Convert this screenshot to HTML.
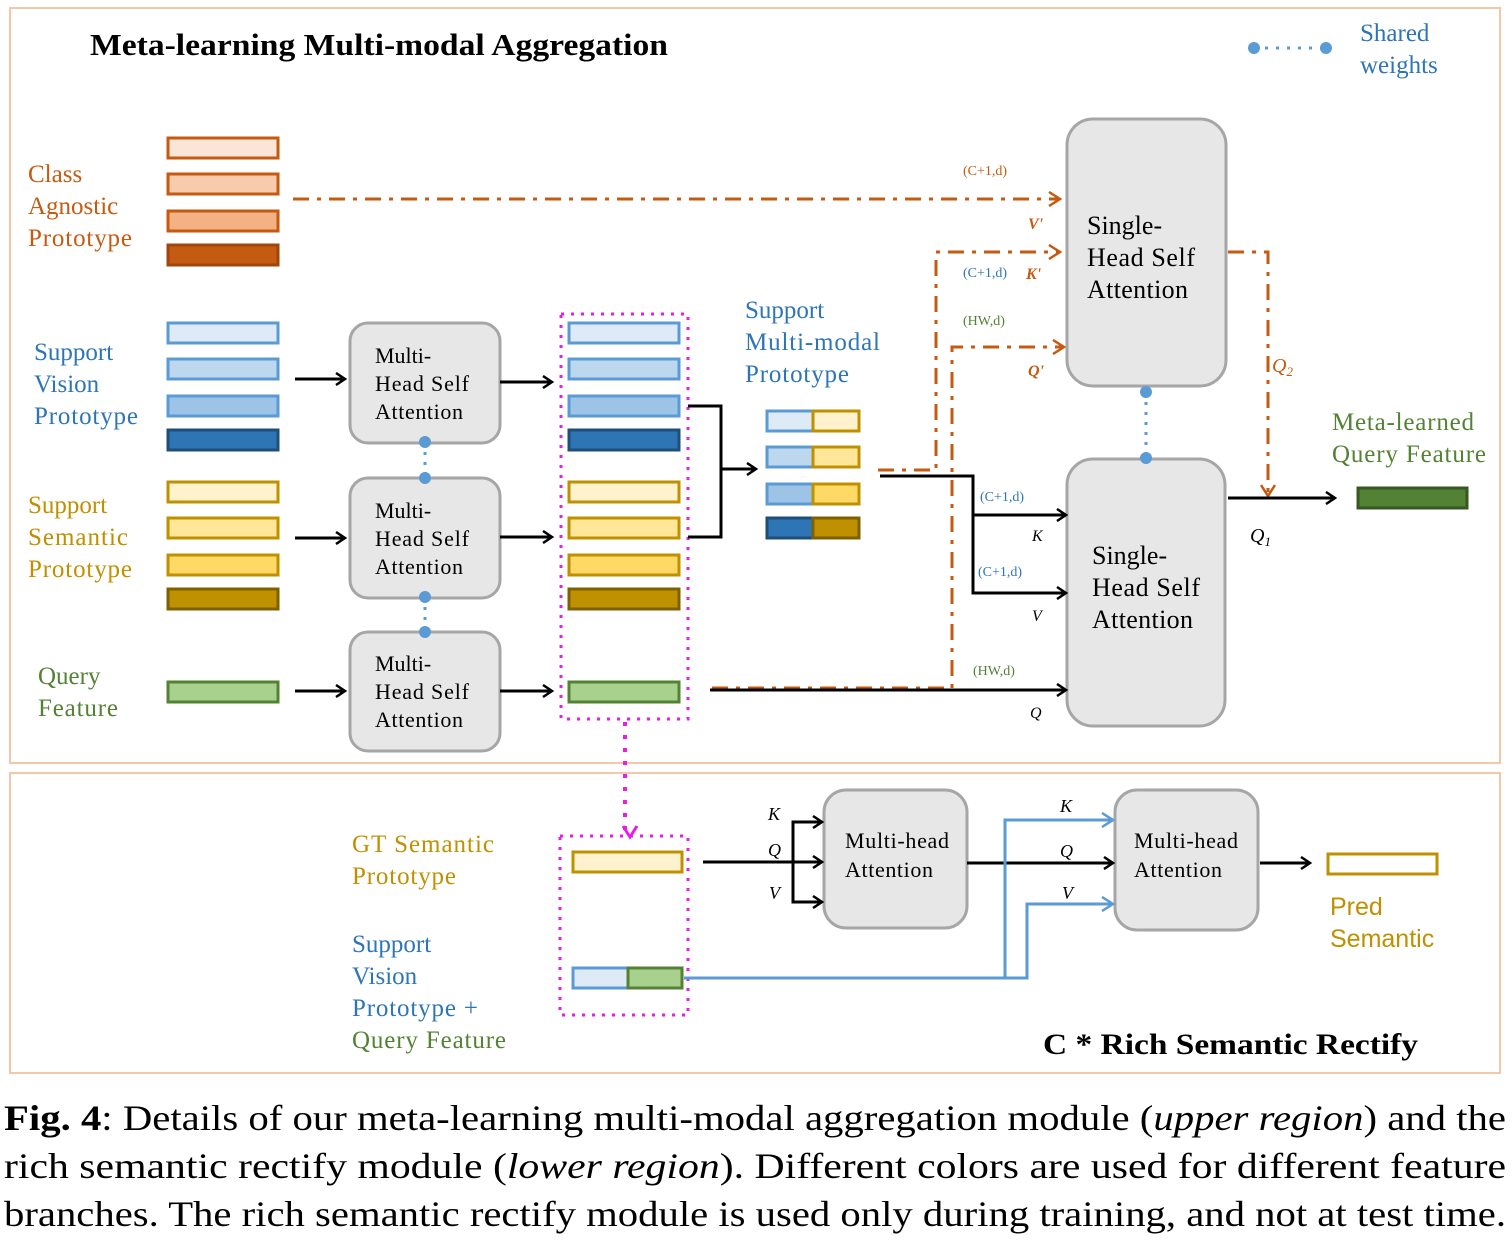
<!DOCTYPE html>
<html><head><meta charset="utf-8"><style>
html,body{margin:0;padding:0;background:#fff}
svg{display:block}
text{font-family:"Liberation Serif",serif}
</style></head><body>
<svg width="1512" height="1243" viewBox="0 0 1512 1243" xmlns="http://www.w3.org/2000/svg">
<defs>
<marker id="ab" markerWidth="14" markerHeight="14" refX="11" refY="7" orient="auto" markerUnits="userSpaceOnUse"><polyline points="2,1 11,7 2,13" fill="none" stroke="#000" stroke-width="2.5"/></marker>
<marker id="ao" markerWidth="16" markerHeight="16" refX="13" refY="8" orient="auto" markerUnits="userSpaceOnUse"><polyline points="2,1 13,8 2,15" fill="none" stroke="#c55a11" stroke-width="2.5"/></marker>
<marker id="abl" markerWidth="16" markerHeight="16" refX="13" refY="8" orient="auto" markerUnits="userSpaceOnUse"><polyline points="2,1 13,8 2,15" fill="none" stroke="#5b9bd5" stroke-width="2.5"/></marker>
<marker id="am" markerWidth="16" markerHeight="16" refX="8" refY="13" orient="auto" markerUnits="userSpaceOnUse"><polyline points="1,2 8,13 15,2" fill="none" stroke="#e61ee6" stroke-width="3" transform="rotate(-90 8 8)"/></marker>
</defs>
<rect x="10" y="8" width="1490" height="755" fill="none" stroke="#f4c7a9" stroke-width="2"/>
<rect x="10" y="773" width="1490" height="300" fill="none" stroke="#f4c7a9" stroke-width="2"/>
<text x="90" y="55" font-size="31" font-weight="bold" textLength="578" lengthAdjust="spacingAndGlyphs">Meta-learning Multi-modal Aggregation</text>
<line x1="1254" y1="48" x2="1326" y2="48" stroke="#5b9bd5" stroke-width="3" stroke-dasharray="3,8"/>
<circle cx="1254" cy="48" r="6" fill="#5b9bd5"/><circle cx="1326" cy="48" r="6" fill="#5b9bd5"/>
<text x="1360" y="41" font-size="25" fill="#2e75b6">Shared</text>
<text x="1360" y="73" font-size="25" fill="#2e75b6">weights</text>
<g font-size="25">
<text x="28" y="182" fill="#c55a11">Class</text><text x="28" y="214" fill="#c55a11">Agnostic</text><text x="28" y="246" fill="#c55a11" textLength="104">Prototype</text>
<text x="34" y="360" fill="#2e75b6">Support</text><text x="34" y="392" fill="#2e75b6">Vision</text><text x="34" y="424" fill="#2e75b6" textLength="104">Prototype</text>
<text x="28" y="513" fill="#bf9000">Support</text><text x="28" y="545" fill="#bf9000" textLength="100">Semantic</text><text x="28" y="577" fill="#bf9000" textLength="104">Prototype</text>
<text x="38" y="684" fill="#548235">Query</text><text x="38" y="716" fill="#548235" textLength="80">Feature</text>
<text x="745" y="318" fill="#2e75b6">Support</text><text x="745" y="350" fill="#2e75b6" textLength="135">Multi-modal</text><text x="745" y="382" fill="#2e75b6" textLength="104">Prototype</text>
<text x="1332" y="430" fill="#548235" textLength="142">Meta-learned</text><text x="1332" y="462" fill="#548235" textLength="154">Query Feature</text>
<text x="352" y="852" fill="#bf9000" textLength="142">GT Semantic</text><text x="352" y="884" fill="#bf9000" textLength="104">Prototype</text>
<text x="352" y="952" fill="#2e75b6">Support</text><text x="352" y="984" fill="#2e75b6">Vision</text><text x="352" y="1016" fill="#2e75b6" textLength="126">Prototype +</text>
<text x="352" y="1048" fill="#548235" textLength="154">Query Feature</text>
<text x="1330" y="915" fill="#bf9000" style="font-family:'Liberation Sans',sans-serif">Pred</text><text x="1330" y="947" fill="#bf9000" style="font-family:'Liberation Sans',sans-serif">Semantic</text>
</g>
<g stroke-width="3">
<rect x="168" y="138" width="110" height="20" fill="#fbe5d6" stroke="#c55a11"/>
<rect x="168" y="174" width="110" height="20" fill="#f8cbad" stroke="#c55a11"/>
<rect x="168" y="211" width="110" height="20" fill="#f4b183" stroke="#c55a11"/>
<rect x="168" y="245" width="110" height="20" fill="#c55a11" stroke="#a0450c"/>
<g id="vis"><rect x="168" y="323" width="110" height="20" fill="#deebf7" stroke="#5b9bd5"/>
<rect x="168" y="359" width="110" height="20" fill="#bdd7ee" stroke="#5b9bd5"/>
<rect x="168" y="396" width="110" height="20" fill="#9dc3e6" stroke="#5b9bd5"/>
<rect x="168" y="430" width="110" height="20" fill="#2e75b6" stroke="#1f4e79"/>
<rect x="168" y="482" width="110" height="20" fill="#fff2cc" stroke="#bf9000"/>
<rect x="168" y="518" width="110" height="20" fill="#ffe699" stroke="#bf9000"/>
<rect x="168" y="555" width="110" height="20" fill="#ffd966" stroke="#bf9000"/>
<rect x="168" y="589" width="110" height="20" fill="#bf9000" stroke="#7f6000"/>
<rect x="168" y="682" width="110" height="20" fill="#a9d18e" stroke="#548235"/></g>
<use href="#vis" x="401"/>
<rect x="767" y="411" width="46" height="20" fill="#deebf7" stroke="#5b9bd5"/><rect x="813" y="411" width="46" height="20" fill="#fff2cc" stroke="#bf9000"/>
<rect x="767" y="447" width="46" height="20" fill="#bdd7ee" stroke="#5b9bd5"/><rect x="813" y="447" width="46" height="20" fill="#ffe699" stroke="#bf9000"/>
<rect x="767" y="484" width="46" height="20" fill="#9dc3e6" stroke="#5b9bd5"/><rect x="813" y="484" width="46" height="20" fill="#ffd966" stroke="#bf9000"/>
<rect x="767" y="518" width="46" height="20" fill="#2e75b6" stroke="#1f4e79"/><rect x="813" y="518" width="46" height="20" fill="#bf9000" stroke="#7f6000"/>
<rect x="1358" y="488" width="109" height="20" fill="#548235" stroke="#385723"/>
<rect x="573" y="852" width="109" height="20" fill="#fff2cc" stroke="#bf9000"/>
<rect x="573" y="968" width="55" height="20" fill="#deebf7" stroke="#5b9bd5"/><rect x="628" y="968" width="54" height="20" fill="#a9d18e" stroke="#548235"/>
<rect x="1328" y="854" width="109" height="20" fill="#fff" stroke="#bf9000"/>
</g>
<rect x="561" y="314" width="127" height="405" fill="none" stroke="#e61ee6" stroke-width="3" stroke-dasharray="3,7"/>
<rect x="560" y="836" width="128" height="179" fill="none" stroke="#e61ee6" stroke-width="3" stroke-dasharray="3,7"/>
<line x1="625" y1="722" x2="625" y2="832" stroke="#e61ee6" stroke-width="4" stroke-dasharray="4,9" marker-end="url(#am)"/>
<g fill="#e7e7e7" stroke="#a6a6a6" stroke-width="3">
<rect x="350" y="323" width="150" height="120" rx="18"/>
<rect x="350" y="478" width="150" height="120" rx="18"/>
<rect x="350" y="632" width="150" height="119" rx="18"/>
<rect x="1067" y="119" width="159" height="267" rx="26"/>
<rect x="1067" y="459" width="158" height="267" rx="26"/>
<rect x="824" y="790" width="143" height="138" rx="22"/>
<rect x="1115" y="790" width="143" height="140" rx="22"/>
</g>
<g font-size="22">
<text x="375" y="363">Multi-</text><text x="375" y="391" textLength="94">Head Self</text><text x="375" y="419" textLength="88">Attention</text>
<text x="375" y="518">Multi-</text><text x="375" y="546" textLength="94">Head Self</text><text x="375" y="574" textLength="88">Attention</text>
<text x="375" y="671">Multi-</text><text x="375" y="699" textLength="94">Head Self</text><text x="375" y="727" textLength="88">Attention</text>
<text x="845" y="848" textLength="104">Multi-head</text><text x="845" y="877" textLength="88">Attention</text>
<text x="1134" y="848" textLength="104">Multi-head</text><text x="1134" y="877" textLength="88">Attention</text>
</g>
<g font-size="26">
<text x="1087" y="234">Single-</text><text x="1087" y="266" textLength="108">Head Self</text><text x="1087" y="298" textLength="101">Attention</text>
<text x="1092" y="564">Single-</text><text x="1092" y="596" textLength="108">Head Self</text><text x="1092" y="628" textLength="101">Attention</text>
</g>
<g stroke="#5b9bd5" stroke-width="3" stroke-dasharray="3,7" fill="none">
<line x1="425" y1="442" x2="425" y2="478"/><line x1="425" y1="597" x2="425" y2="632"/><line x1="1146" y1="392" x2="1146" y2="458"/>
</g>
<g fill="#5b9bd5"><circle cx="425" cy="442" r="6"/><circle cx="425" cy="478" r="6"/><circle cx="425" cy="597" r="6"/><circle cx="425" cy="632" r="6"/><circle cx="1146" cy="392" r="6"/><circle cx="1146" cy="458" r="6"/></g>
<g stroke="#c55a11" stroke-width="3" fill="none" stroke-dasharray="16,8,4,8">
<polyline points="293,199 1060,199" marker-end="url(#ao)"/>
<polyline points="878,470 936,470 936,252 1060,252" marker-end="url(#ao)"/>
<polyline points="712,688 952,688 952,347 1064,347" marker-end="url(#ao)"/>
<polyline points="1228,252 1268,252 1268,496" marker-end="url(#ao)"/>
</g>
<g stroke="#000" stroke-width="3" fill="none">
<line x1="295" y1="379" x2="345" y2="379" marker-end="url(#ab)"/>
<line x1="295" y1="538" x2="345" y2="538" marker-end="url(#ab)"/>
<line x1="295" y1="691" x2="345" y2="691" marker-end="url(#ab)"/>
<line x1="500" y1="382" x2="552" y2="382" marker-end="url(#ab)"/>
<line x1="500" y1="537" x2="552" y2="537" marker-end="url(#ab)"/>
<line x1="500" y1="691" x2="552" y2="691" marker-end="url(#ab)"/>
<polyline points="688,406 721,406 721,537 688,537"/>
<line x1="721" y1="469" x2="756" y2="469" marker-end="url(#ab)"/>
<polyline points="880,476 973,476 973,593 1066,593" marker-end="url(#ab)"/>
<line x1="973" y1="515" x2="1066" y2="515" marker-end="url(#ab)"/>
<line x1="710" y1="690" x2="1066" y2="690" marker-end="url(#ab)"/>
<line x1="1228" y1="498" x2="1335" y2="498" marker-end="url(#ab)"/>
<line x1="703" y1="862" x2="822" y2="862" marker-end="url(#ab)"/>
<polyline points="822,822 793,822 793,902 822,902"/>
<line x1="815" y1="822" x2="822" y2="822" marker-end="url(#ab)"/>
<line x1="815" y1="902" x2="822" y2="902" marker-end="url(#ab)"/>
<line x1="967" y1="863" x2="1113" y2="863" marker-end="url(#ab)"/>
<line x1="1260" y1="863" x2="1310" y2="863" marker-end="url(#ab)"/>
</g>
<g stroke="#5b9bd5" stroke-width="3" fill="none">
<polyline points="684,978 1005,978 1005,820 1113,820" marker-end="url(#abl)"/>
<polyline points="1005,978 1027,978 1027,904 1113,904" marker-end="url(#abl)"/>
</g>
<g font-size="14">
<text x="963" y="175" fill="#c55a11">(C+1,d)</text>
<text x="963" y="277" fill="#2e75b6">(C+1,d)</text>
<text x="963" y="325" fill="#548235">(HW,d)</text>
<text x="980" y="501" fill="#2e75b6">(C+1,d)</text>
<text x="978" y="576" fill="#2e75b6">(C+1,d)</text>
<text x="973" y="675" fill="#548235">(HW,d)</text>
</g>
<g font-size="16" font-style="italic">
<text x="1028" y="229" fill="#c55a11" font-weight="bold">V'</text>
<text x="1026" y="279" fill="#c55a11" font-weight="bold">K'</text>
<text x="1028" y="376" fill="#c55a11" font-weight="bold">Q'</text>
<text x="1032" y="541">K</text><text x="1032" y="621">V</text><text x="1030" y="718">Q</text>
<text x="1272" y="372" fill="#c55a11" font-size="20">Q<tspan font-size="13" dy="4">2</tspan></text>
<text x="1250" y="542" font-size="20">Q<tspan font-size="13" dy="4">1</tspan></text>
<text x="768" y="820" font-size="18">K</text><text x="768" y="856" font-size="18">Q</text><text x="769" y="899" font-size="18">V</text>
<text x="1060" y="812" font-size="18">K</text><text x="1060" y="857" font-size="18">Q</text><text x="1062" y="899" font-size="18">V</text>
</g>
<text x="1043" y="1054" font-size="30" font-weight="bold" textLength="375" lengthAdjust="spacingAndGlyphs">C * Rich Semantic Rectify</text>
<g font-size="36">
<text x="4" y="1130" textLength="1502" lengthAdjust="spacingAndGlyphs"><tspan font-weight="bold">Fig. 4</tspan>: Details of our meta-learning multi-modal aggregation module (<tspan font-style="italic">upper region</tspan>) and the</text>
<text x="4" y="1178" textLength="1502" lengthAdjust="spacingAndGlyphs">rich semantic rectify module (<tspan font-style="italic">lower region</tspan>). Different colors are used for different feature</text>
<text x="4" y="1226" textLength="1502" lengthAdjust="spacingAndGlyphs">branches. The rich semantic rectify module is used only during training, and not at test time.</text>
</g>
</svg>
</body></html>
